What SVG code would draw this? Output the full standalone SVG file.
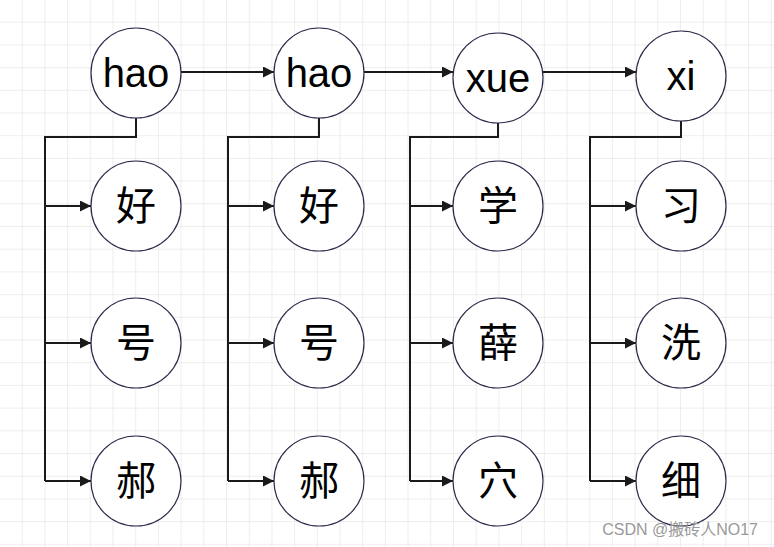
<svg xmlns="http://www.w3.org/2000/svg" width="774" height="547" viewBox="0 0 774 547">
<style>
.n circle{fill:#fff;stroke:#2b2b4a;stroke-width:1.2}
.n text{font-family:"Liberation Sans","Noto Sans CJK SC",sans-serif;font-size:40px;text-anchor:middle;dominant-baseline:central;fill:#000}
.c{fill:none;stroke:#1a1a1a;stroke-width:2;marker-end:url(#a)}
</style>
<defs>
<pattern id="g" width="22.7" height="22.7" patternUnits="userSpaceOnUse"><path d="M22.7 0V22.7H0" fill="none" stroke="#ddd" stroke-width="1"/></pattern>
<marker id="a" viewBox="0 0 10 10" refX="10" refY="5" markerWidth="12" markerHeight="11" markerUnits="userSpaceOnUse" orient="auto"><path d="M0 0L10 5L0 10z" fill="#1a1a1a"/></marker>
</defs>
<rect width="774" height="547" fill="#fff"/>
<rect width="774" height="547" fill="url(#g)"/>
<g id="connectors">
<path class="c" d="M181 72H274"/>
<path class="c" d="M364 72H453"/>
<path class="c" d="M543 72H636"/>
<path d="M136 118V137H45V481M319 118V137H228V481M498 123V137H410V481M681 121V137H590V481" fill="none" stroke="#1a1a1a" stroke-width="2"/>
<path class="c" d="M45 206H91"/><path class="c" d="M45 343H91"/><path class="c" d="M45 481H91"/>
<path class="c" d="M228 206H274"/><path class="c" d="M228 343H274"/><path class="c" d="M228 481H274"/>
<path class="c" d="M410 206H453"/><path class="c" d="M410 343H453"/><path class="c" d="M410 481H453"/>
<path class="c" d="M590 206H636"/><path class="c" d="M590 343H636"/><path class="c" d="M590 481H636"/>
</g>
<g id="hao1" class="n"><circle cx="136" cy="73" r="45"/><text x="136" y="73">hao</text></g>
<g id="hao2" class="n"><circle cx="319" cy="73" r="45"/><text x="319" y="73">hao</text></g>
<g id="xue" class="n"><circle cx="498" cy="78" r="45"/><text x="498" y="78">xue</text></g>
<g id="xi" class="n"><circle cx="681" cy="76" r="45"/><text x="681" y="76">xi</text></g>
<g id="n1a" class="n"><circle cx="136" cy="206" r="45"/><text x="136" y="206">好</text></g>
<g id="n1b" class="n"><circle cx="136" cy="343" r="45"/><text x="136" y="343">号</text></g>
<g id="n1c" class="n"><circle cx="136" cy="481" r="45"/><text x="136" y="481">郝</text></g>
<g id="n2a" class="n"><circle cx="319" cy="206" r="45"/><text x="319" y="206">好</text></g>
<g id="n2b" class="n"><circle cx="319" cy="343" r="45"/><text x="319" y="343">号</text></g>
<g id="n2c" class="n"><circle cx="319" cy="481" r="45"/><text x="319" y="481">郝</text></g>
<g id="n3a" class="n"><circle cx="498" cy="206" r="45"/><text x="498" y="206">学</text></g>
<g id="n3b" class="n"><circle cx="498" cy="343" r="45"/><text x="498" y="343">薛</text></g>
<g id="n3c" class="n"><circle cx="498" cy="481" r="45"/><text x="498" y="481">穴</text></g>
<g id="n4a" class="n"><circle cx="681" cy="206" r="45"/><text x="681" y="206">习</text></g>
<g id="n4b" class="n"><circle cx="681" cy="343" r="45"/><text x="681" y="343">洗</text></g>
<g id="n4c" class="n"><circle cx="681" cy="481" r="45"/><text x="681" y="481">细</text></g>
<text x="758" y="535" text-anchor="end" font-family="Liberation Sans,'Noto Sans CJK SC',sans-serif" font-size="16" fill="#999">CSDN @搬砖人NO17</text>
</svg>
